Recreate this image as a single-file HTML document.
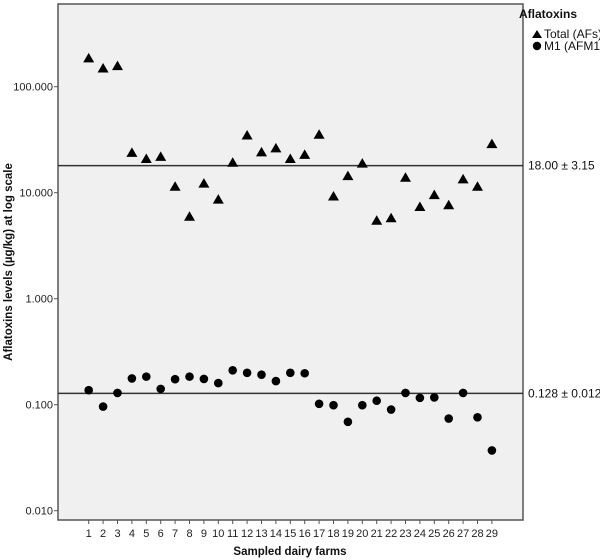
<!DOCTYPE html>
<html><head><meta charset="utf-8"><style>
body{margin:0;background:#fff;}
svg{display:block;font-family:"Liberation Sans",Arial,sans-serif;}
</style></head><body>
<svg id="chart" width="600" height="560">
<rect x="0" y="0" width="600" height="560" fill="#fff"/>
<rect x="58" y="4" width="465" height="516" fill="#f0f0f0" stroke="#555" stroke-width="1.5"/>
<g id="yaxis"></g><g id="xaxis"></g><g id="marks"></g>
<text x="12" y="262" transform="rotate(-90 12 262)" text-anchor="middle" font-size="11.5" font-weight="bold" fill="#111">Aflatoxins levels (µg/kg) at log scale</text>
<text x="290" y="555" text-anchor="middle" font-size="11.5" font-weight="bold" fill="#111">Sampled dairy farms</text>
<text x="548" y="18" text-anchor="middle" font-size="12" font-weight="bold" fill="#111">Aflatoxins</text>
<g><polygon points="532,38 537,30 542,38" fill="#000"/><text x="544" y="38" font-size="12" fill="#111">Total (AFs)</text></g>
<g><circle cx="537" cy="46" r="4.2" fill="#000"/><text x="544" y="50" font-size="12" fill="#111">M1 (AFM1)</text></g>
</svg>
<script>
const farms=[1,2,3,4,5,6,7,8,9,10,11,12,13,14,15,16,17,18,19,20,21,22,23,24,25,26,27,28,29];
const totalAFs=[187,150,158,24,21,22,11.5,6,12.3,8.7,19.4,35,24.3,26.5,21,23,35.6,9.3,14.5,19,5.5,5.8,14,7.4,9.6,7.7,13.5,11.5,29];
const m1AFM1=[0.137,0.096,0.129,0.177,0.184,0.141,0.174,0.184,0.175,0.160,0.211,0.200,0.192,0.167,0.200,0.198,0.102,0.099,0.069,0.099,0.109,0.090,0.129,0.116,0.117,0.074,0.129,0.076,0.037];
const yTicks=[100,10,1,0.1,0.01];
const yTickLabels=["100.000","10.000","1.000","0.100","0.010"];
const refValues=[18.0,0.128];
const refLabels=["18.00 ± 3.15","0.128 ± 0.012"];
const NS="http://www.w3.org/2000/svg";
const svg=document.getElementById('chart');
function y(v){return 404.7-(Math.log10(v)+1)*106;}
function x(i){return 88.7+(i-1)*14.4;}
function mk(tag,attrs,parent){const e=document.createElementNS(NS,tag);for(const k in attrs)e.setAttribute(k,attrs[k]);parent.appendChild(e);return e;}
const ya=document.getElementById('yaxis');
yTicks.forEach((t,i)=>{
  const l=mk('line',{x1:54,x2:58,y1:y(t),y2:y(t),stroke:'#555'},ya);
  
  
  const tx=mk('text',{x:53,y:y(t)+4,'text-anchor':'end','font-size':11,fill:'#222'},ya);
  tx.textContent=yTickLabels[i];
  
  
});
const xa=document.getElementById('xaxis');
farms.forEach(f=>{
  const l=mk('line',{x1:x(f),x2:x(f),y1:520,y2:524,stroke:'#555'},xa);
  
  
  const tx=mk('text',{x:x(f),y:537,'text-anchor':'middle','font-size':11,fill:'#222'},xa);
  tx.textContent=f;
  
  
});
const m=document.getElementById('marks');
refValues.forEach((v,i)=>{
  const l=mk('line',{x1:58,x2:523,y1:y(v),y2:y(v),stroke:'#333','stroke-width':1.5},m);
  
  
  const tx=mk('text',{x:528,y:y(v)+4,'font-size':12,fill:'#111'},m);
  tx.textContent=refLabels[i];
  
  
});
totalAFs.forEach((v,i)=>{
  const cx=x(farms[i]),cy=y(v);
  const p=mk('polygon',{points:`${cx-5.5},${cy+4.5} ${cx},${cy-5} ${cx+5.5},${cy+4.5}`,fill:'#000'},m);
  
  
});
m1AFM1.forEach((v,i)=>{
  const c=mk('circle',{cx:x(farms[i]),cy:y(v),r:4.3,fill:'#000'},m);
  
  
});
</script>
</body></html>
